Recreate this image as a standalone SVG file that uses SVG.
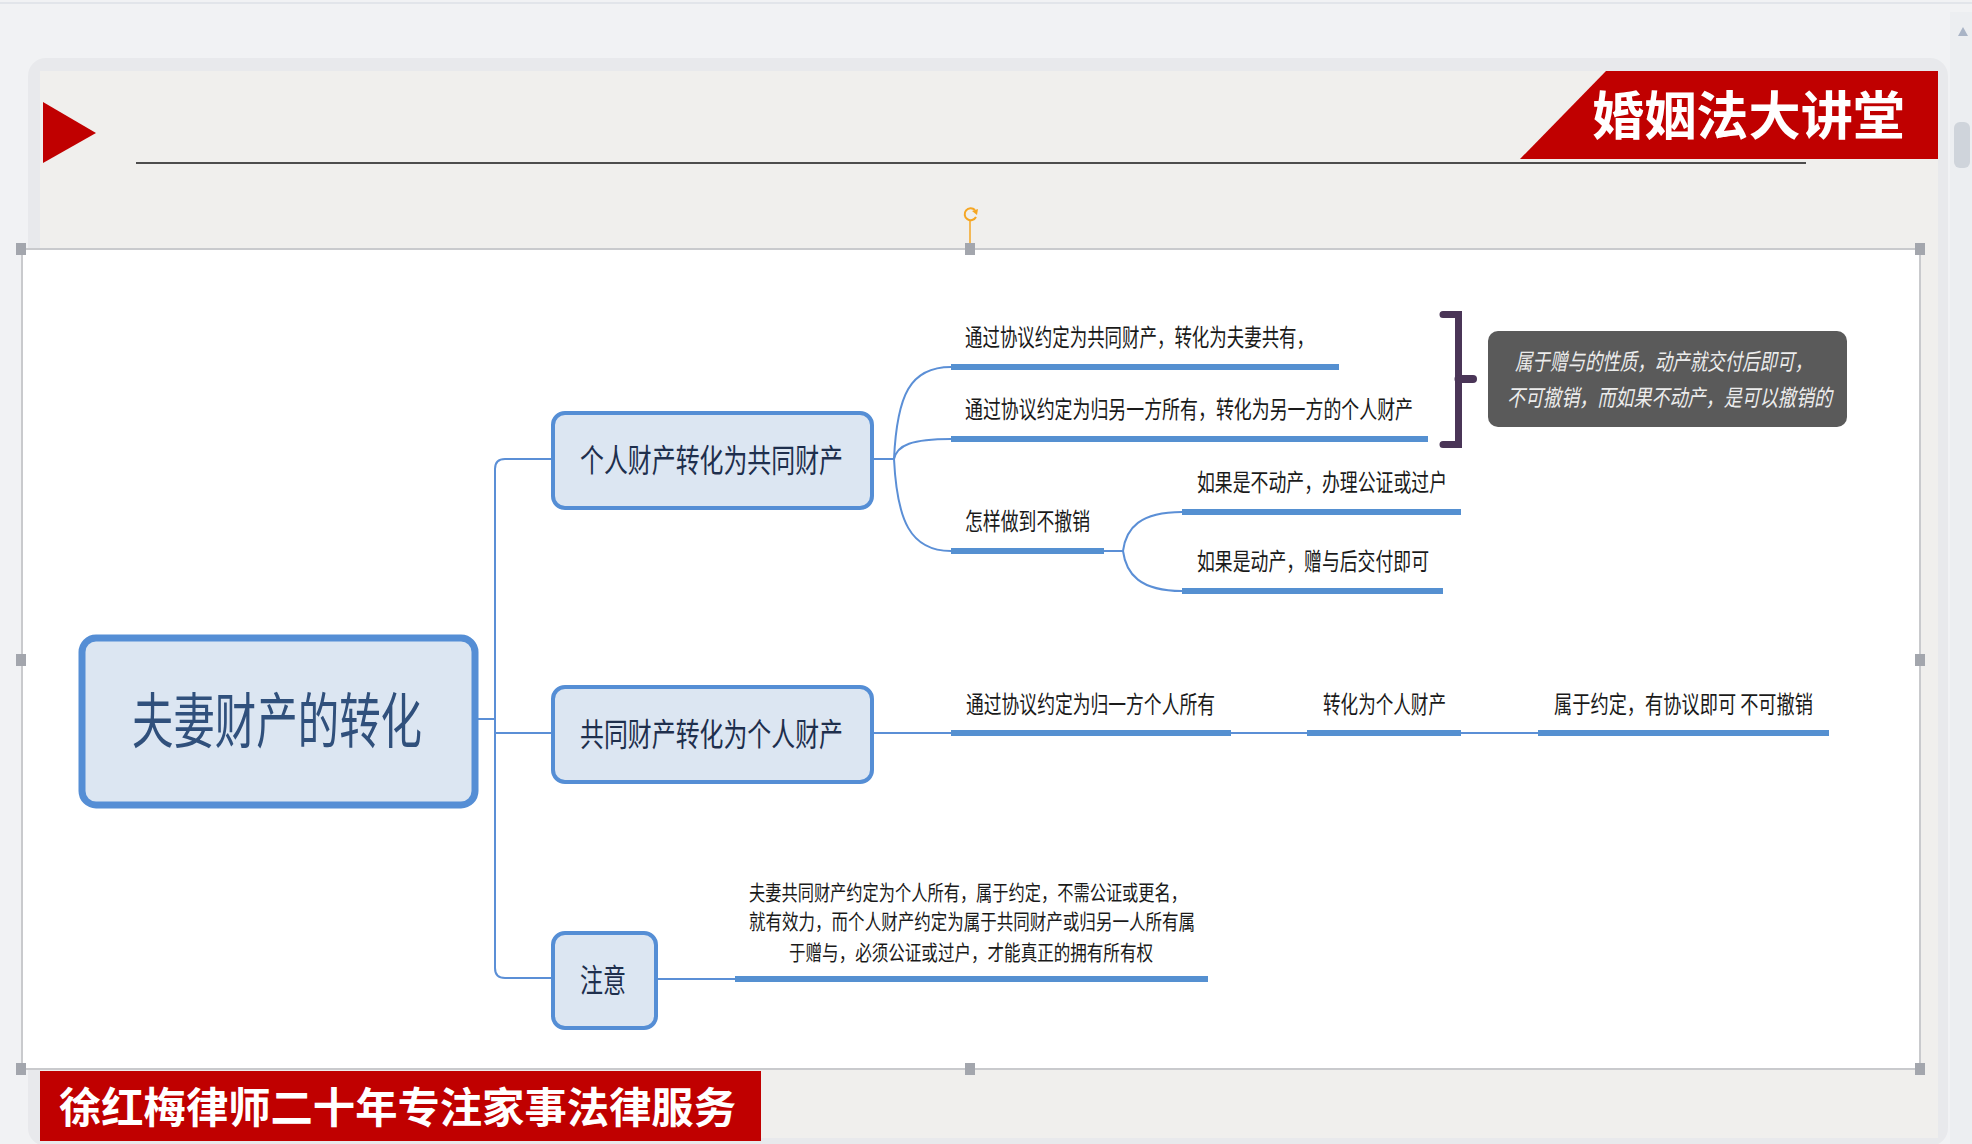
<svg xmlns="http://www.w3.org/2000/svg" width="1972" height="1144" viewBox="0 0 1972 1144">
<style>
.node{fill:#dce6f2;stroke:#558ed5;stroke-width:4}
.main{fill:#dce6f2;stroke:#558ed5;stroke-width:7}
.conn{fill:none;stroke:#5b8fd6;stroke-width:2}
.ul{stroke:#5590d1;stroke-width:6}
.nt{font-family:"Noto Sans CJK SC","Noto Sans",sans-serif;fill:#1e2f4d;dominant-baseline:central}
.lt{font-family:"Noto Sans CJK SC","Noto Sans",sans-serif;fill:#1a1a1a;dominant-baseline:central;font-size:24px}
.handle{fill:#a3a6ad}
</style>
<rect x="0" y="0" width="1972" height="1144" fill="#f1f2f4"/>
<line x1="0" y1="3" x2="1972" y2="3" stroke="#e2e5ea" stroke-width="2"/>
<!-- scrollbar -->
<rect x="1950" y="12" width="22" height="1132" fill="#eceef1"/>
<path d="M1958 36 L1968 36 L1963 27 Z" fill="#a9b4c6"/>
<rect x="1954" y="122" width="16" height="46" rx="6" fill="#cfd4db"/>
<!-- slide -->
<rect x="28" y="58" width="1920" height="1088" rx="18" fill="#e8e9ec"/>
<rect x="40" y="71" width="1898" height="1067" fill="#f0efed"/>
<g id="header">
<path d="M43 102 L96 133 L43 163 Z" fill="#c00000"/>
<line x1="136" y1="163" x2="1806" y2="163" stroke="#4d4d4d" stroke-width="2"/>
<path d="M1606 71 L1938 71 L1938 159 L1520 159 Z" fill="#c00000"/>
<text x="1592" y="112" font-family="Noto Sans CJK SC,sans-serif" font-size="52" font-weight="bold" fill="#ffffff" dominant-baseline="central" textLength="313" lengthAdjust="spacingAndGlyphs">婚姻法大讲堂</text>
</g>
<!-- selected image area -->
<rect x="22" y="249" width="1898" height="820" fill="#ffffff" stroke="#c9cacd" stroke-width="2"/>
<g id="selection">
<line x1="970" y1="221" x2="970" y2="249" stroke="#f5a623" stroke-width="1.5"/>
<path d="M975 210 A6 6 0 1 0 976 217" fill="none" stroke="#f5a623" stroke-width="2"/>
<path d="M972 211 L978 209 L977 215 Z" fill="#f5a623"/>
<rect class="handle" x="16" y="243" width="10" height="12"/>
<rect class="handle" x="965" y="243" width="10" height="12"/>
<rect class="handle" x="1915" y="243" width="10" height="12"/>
<rect class="handle" x="16" y="654" width="10" height="12"/>
<rect class="handle" x="1915" y="654" width="10" height="12"/>
<rect class="handle" x="16" y="1063" width="10" height="12"/>
<rect class="handle" x="965" y="1063" width="10" height="12"/>
<rect class="handle" x="1915" y="1063" width="10" height="12"/>
</g>
<!-- connectors -->
<g id="connectors">
<path class="conn" d="M478 719 L495 719"/>
<path class="conn" d="M551 459 L505 459 Q495 459 495 469 L495 968 Q495 978 505 978 L551 978"/>
<path class="conn" d="M495 733 L551 733"/>
<path class="conn" d="M874 459 L894 459"/>
<path class="conn" d="M894 459 C897 395 910 367 951 367"/>
<path class="conn" d="M894 459 C897 445 912 439 951 439"/>
<path class="conn" d="M894 459 C897 520 910 551 951 551"/>
<path class="conn" d="M1104 551 L1123 551"/>
<path class="conn" d="M1123 551 C1126 528 1140 512 1182 512"/>
<path class="conn" d="M1123 551 C1126 574 1140 591 1182 591"/>
<path class="conn" d="M874 733 L1538 733"/>
<path class="conn" d="M658 979 L735 979"/>
</g>
<g id="root">
<rect class="main" x="82" y="638" width="393" height="167" rx="14"/>
<text class="nt" x="132" y="716" font-size="60" style="fill:#30507c" textLength="290" lengthAdjust="spacingAndGlyphs">夫妻财产的转化</text>
</g>
<g id="n1">
<rect class="node" x="553" y="413" width="319" height="95" rx="12"/>
<text class="nt" x="580" y="458" font-size="32" textLength="263" lengthAdjust="spacingAndGlyphs">个人财产转化为共同财产</text>
</g>
<g id="n2">
<rect class="node" x="553" y="687" width="319" height="95" rx="12"/>
<text class="nt" x="580" y="732" font-size="32" textLength="263" lengthAdjust="spacingAndGlyphs">共同财产转化为个人财产</text>
</g>
<g id="n3">
<rect class="node" x="553" y="933" width="103" height="95" rx="12"/>
<text class="nt" x="580" y="978" font-size="32" textLength="46" lengthAdjust="spacingAndGlyphs">注意</text>
</g>
<g id="n1a">
<line class="ul" x1="951" y1="367" x2="1339" y2="367"/>
<text class="lt" x="965" y="335" textLength="349" lengthAdjust="spacingAndGlyphs">通过协议约定为共同财产，转化为夫妻共有，</text>
</g>
<g id="n1b">
<line class="ul" x1="951" y1="439" x2="1428" y2="439"/>
<text class="lt" x="965" y="407" textLength="448" lengthAdjust="spacingAndGlyphs">通过协议约定为归另一方所有，转化为另一方的个人财产</text>
</g>
<g id="n1c">
<line class="ul" x1="951" y1="551" x2="1104" y2="551"/>
<text class="lt" x="965" y="519" textLength="125" lengthAdjust="spacingAndGlyphs">怎样做到不撤销</text>
</g>
<g id="n1c1">
<line class="ul" x1="1182" y1="512" x2="1461" y2="512"/>
<text class="lt" x="1197" y="480" textLength="250" lengthAdjust="spacingAndGlyphs">如果是不动产，办理公证或过户</text>
</g>
<g id="n1c2">
<line class="ul" x1="1182" y1="591" x2="1443" y2="591"/>
<text class="lt" x="1197" y="559" textLength="232" lengthAdjust="spacingAndGlyphs">如果是动产，赠与后交付即可</text>
</g>
<g id="bracket">
<path d="M1443 314.5 L1458.5 314.5 L1458.5 444.5 L1443 444.5" fill="none" stroke="#4a3557" stroke-width="7" stroke-linejoin="miter" stroke-linecap="round"/>
<path d="M1458.5 379 L1473 379" fill="none" stroke="#4a3557" stroke-width="8" stroke-linecap="round"/>
</g>
<g id="callout">
<rect x="1488" y="331" width="359" height="96" rx="10" fill="#5a5a5a"/>
<text x="1515" y="360" font-family="Noto Sans CJK SC,sans-serif" font-size="23" font-style="italic" fill="#ececec" dominant-baseline="central" textLength="297" lengthAdjust="spacingAndGlyphs">属于赠与的性质，动产就交付后即可，</text>
<text x="1507" y="396" font-family="Noto Sans CJK SC,sans-serif" font-size="23" font-style="italic" fill="#ececec" dominant-baseline="central" textLength="325" lengthAdjust="spacingAndGlyphs">不可撤销，而如果不动产，是可以撤销的</text>
</g>
<g id="n2a">
<line class="ul" x1="951" y1="733" x2="1231" y2="733"/>
<text class="lt" x="966" y="702" textLength="249" lengthAdjust="spacingAndGlyphs">通过协议约定为归一方个人所有</text>
</g>
<g id="n2b">
<line class="ul" x1="1307" y1="733" x2="1461" y2="733"/>
<text class="lt" x="1323" y="702" textLength="123" lengthAdjust="spacingAndGlyphs">转化为个人财产</text>
</g>
<g id="n2c">
<line class="ul" x1="1538" y1="733" x2="1829" y2="733"/>
<text class="lt" x="1554" y="702" textLength="259" lengthAdjust="spacingAndGlyphs">属于约定，有协议即可 不可撤销</text>
</g>
<g id="n3a">
<line class="ul" x1="735" y1="979" x2="1208" y2="979"/>
<text class="lt" x="749" y="891" style="font-size:21px" textLength="438" lengthAdjust="spacingAndGlyphs">夫妻共同财产约定为个人所有，属于约定，不需公证或更名，</text>
<text class="lt" x="749" y="920" style="font-size:21px" textLength="446" lengthAdjust="spacingAndGlyphs">就有效力，而个人财产约定为属于共同财产或归另一人所有属</text>
<text class="lt" x="789" y="951" style="font-size:21px" textLength="364" lengthAdjust="spacingAndGlyphs">于赠与，必须公证或过户，才能真正的拥有所有权</text>
</g>
<g id="footer">
<rect x="40" y="1071" width="721" height="70" fill="#c00000"/>
<text x="59" y="1104" font-family="Noto Sans CJK SC,sans-serif" font-size="42" font-weight="bold" fill="#ffffff" dominant-baseline="central" textLength="677" lengthAdjust="spacingAndGlyphs">徐红梅律师二十年专注家事法律服务</text>
</g>
</svg>
